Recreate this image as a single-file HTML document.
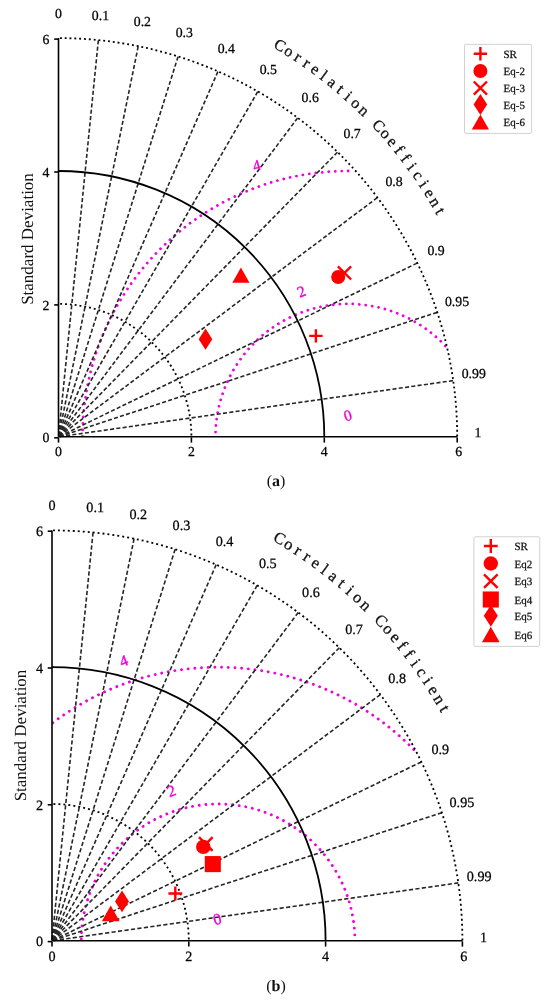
<!DOCTYPE html>
<html><head><meta charset="utf-8"><title>Taylor diagrams</title>
<style>
html,body{margin:0;padding:0;background:#fff;}
body{width:550px;height:1003px;overflow:hidden;}
svg{display:block;}
text{text-rendering:geometricPrecision;}
</style></head>
<body>
<svg width="550" height="1003" viewBox="0 0 550 1003">
<rect width="550" height="1003" fill="#fff"/>
<clipPath id="clipa"><path d="M58.5,436.8 L457.2,436.8 A398.7,398.7 0 0 0 58.5,38.1 Z"/></clipPath>
<g clip-path="url(#clipa)" stroke="#f000dc" stroke-width="2.8" stroke-linecap="round" stroke-dasharray="0.01 6.5" fill="none"><path d="M215.45,436.8 A132.9,132.9 0 0 1 481.25,436.8" stroke-dashoffset="1.7"/><path d="M82.55,436.8 A265.8,265.8 0 0 1 349.84,171" stroke-dashoffset="6"/></g>
<g stroke="#262626" stroke-width="1.6" stroke-dasharray="4.1 2.24" stroke-dashoffset="-1.3" fill="none"><line x1="58.5" y1="436.8" x2="98.37" y2="40.1"/><line x1="58.5" y1="436.8" x2="138.24" y2="46.16"/><line x1="58.5" y1="436.8" x2="178.11" y2="56.46"/><line x1="58.5" y1="436.8" x2="217.98" y2="71.39"/><line x1="58.5" y1="436.8" x2="257.85" y2="91.52"/><line x1="58.5" y1="436.8" x2="297.72" y2="117.84"/><line x1="58.5" y1="436.8" x2="337.59" y2="152.07"/><line x1="58.5" y1="436.8" x2="377.46" y2="197.58"/><line x1="58.5" y1="436.8" x2="417.33" y2="263.01"/><line x1="58.5" y1="436.8" x2="437.27" y2="312.31"/><line x1="58.5" y1="436.8" x2="453.21" y2="380.56"/></g>
<path d="M191.4,436.8 A132.9,132.9 0 0 0 58.5,303.9" stroke="#000" stroke-width="1.8" stroke-dasharray="1.9 2.95" stroke-dashoffset="-1.35" fill="none"/>
<path d="M457.2,436.8 A398.7,398.7 0 0 0 58.5,38.1" stroke="#000" stroke-width="1.8" stroke-dasharray="1.9 2.924" stroke-dashoffset="-0.32" fill="none"/>
<path d="M324.3,436.8 A265.8,265.8 0 0 0 58.5,171" stroke="#000" stroke-width="1.8" fill="none"/>
<g stroke="#000" stroke-width="1.6" fill="none"><line x1="58.5" y1="436.8" x2="457.2" y2="436.8"/><line x1="58.5" y1="436.8" x2="58.5" y2="38.1"/><line x1="54.2" y1="437.8" x2="58.5" y2="437.8"/><line x1="58.5" y1="437.4" x2="58.5" y2="442.6"/><line x1="54.2" y1="304.9" x2="58.5" y2="304.9"/><line x1="191.4" y1="437.4" x2="191.4" y2="442.6"/><line x1="54.2" y1="172" x2="58.5" y2="172"/><line x1="324.3" y1="437.4" x2="324.3" y2="442.6"/><line x1="54.2" y1="39.1" x2="58.5" y2="39.1"/><line x1="457.2" y1="437.4" x2="457.2" y2="442.6"/></g>
<g font-family='"Liberation Serif", "Times New Roman", serif' font-size="13.8" fill="#000" stroke="#000" stroke-width="0.25"><text x="49.5" y="442.4" text-anchor="end">0</text><text x="58.5" y="456" text-anchor="middle">0</text><text x="49.5" y="309.5" text-anchor="end">2</text><text x="191.4" y="456" text-anchor="middle">2</text><text x="49.5" y="176.6" text-anchor="end">4</text><text x="324.3" y="456" text-anchor="middle">4</text><text x="49.5" y="43.7" text-anchor="end">6</text><text x="458.7" y="456" text-anchor="middle">6</text><text x="58.5" y="17.9" text-anchor="middle">0</text><text x="100.45" y="20" text-anchor="middle">0.1</text><text x="142.4" y="26.38" text-anchor="middle">0.2</text><text x="184.35" y="37.22" text-anchor="middle">0.3</text><text x="226.3" y="52.92" text-anchor="middle">0.4</text><text x="268.25" y="74.1" text-anchor="middle">0.5</text><text x="310.2" y="101.8" text-anchor="middle">0.6</text><text x="352.15" y="137.82" text-anchor="middle">0.7</text><text x="394.1" y="185.7" text-anchor="middle">0.8</text><text x="436.05" y="254.54" text-anchor="middle">0.9</text><text x="457.02" y="306.41" text-anchor="middle">0.95</text><text x="473.81" y="378.22" text-anchor="middle">0.99</text><text x="478" y="437.4" text-anchor="middle">1</text></g>
<g font-family='"Liberation Serif", "Times New Roman", serif' font-size="16" font-weight="normal" fill="#111" stroke="#111" stroke-width="0.3" text-anchor="middle"><text transform="translate(277.38,49.93) rotate(29.5)">C</text><text transform="translate(286.36,55.46) rotate(30.86)">o</text><text transform="translate(295.19,61.2) rotate(32.22)">r</text><text transform="translate(303.88,67.15) rotate(33.58)">r</text><text transform="translate(312.43,73.3) rotate(34.94)">e</text><text transform="translate(320.81,79.64) rotate(36.3)">l</text><text transform="translate(329.05,86.18) rotate(37.65)">a</text><text transform="translate(337.11,92.91) rotate(39.01)">t</text><text transform="translate(345.01,99.82) rotate(40.37)">i</text><text transform="translate(352.75,106.92) rotate(41.73)">o</text><text transform="translate(360.3,114.19) rotate(43.09)">n</text><text transform="translate(374.87,129.24) rotate(45.81)">C</text><text transform="translate(381.88,137.02) rotate(47.17)">o</text><text transform="translate(388.69,144.95) rotate(48.53)">e</text><text transform="translate(395.31,153.04) rotate(49.89)">f</text><text transform="translate(401.73,161.28) rotate(51.25)">f</text><text transform="translate(407.96,169.67) rotate(52.6)">i</text><text transform="translate(413.97,178.19) rotate(53.96)">c</text><text transform="translate(419.78,186.85) rotate(55.32)">i</text><text transform="translate(425.38,195.64) rotate(56.68)">e</text><text transform="translate(430.77,204.55) rotate(58.04)">n</text><text transform="translate(435.94,213.59) rotate(59.4)">t</text></g>
<g font-family='"Liberation Serif", "Times New Roman", serif' font-size="15.5" fill="#f000dc" stroke="#f000dc" stroke-width="0.35" text-anchor="middle"><text transform="translate(347.7,415.5) rotate(-16)" y="5.2">0</text><text transform="translate(301.5,291.5) rotate(-22)" y="5.2">2</text><text transform="translate(256.7,165.3) rotate(-17)" y="5.2">4</text></g>
<g fill="#ff0000" stroke="none"><path d="M309.2,335.9H322.6M315.9,329.2V342.6" stroke="#ff0000" stroke-width="2.4" fill="none"/><circle cx="338.2" cy="277" r="7"/><path d="M337.9,266.3L351.1,279.5M337.9,279.5L351.1,266.3" stroke="#ff0000" stroke-width="2.4" fill="none"/><path d="M205.5,328.6L212.3,339.2L205.5,349.8L198.7,339.2Z"/><path d="M240.9,267.6L249.5,282.8L232.3,282.8Z"/></g>
<rect x="464.5" y="44.4" width="67.1" height="89" rx="1.5" fill="#fff" stroke="#d2d2d2" stroke-width="1"/>
<g fill="#ff0000"><path d="M473.7,53.7H487.1M480.4,47V60.4" stroke="#ff0000" stroke-width="2.4" fill="none"/><circle cx="480.4" cy="71" r="7"/><path d="M473.8,81.5L487,94.7M473.8,94.7L487,81.5" stroke="#ff0000" stroke-width="2.4" fill="none"/><path d="M480.4,93.9L487.2,104.5L480.4,115.1L473.6,104.5Z"/><path d="M480.4,114.4L489,129.6L471.8,129.6Z"/></g>
<g font-family='"Liberation Serif", "Times New Roman", serif' font-size="11" fill="#111" stroke="#111" stroke-width="0.25"><text x="503.5" y="57.7">SR</text><text x="503.5" y="75">Eq-2</text><text x="503.5" y="92.1">Eq-3</text><text x="503.5" y="108.5">Eq-5</text><text x="503.5" y="126">Eq-6</text></g>
<text transform="translate(32.5,239) rotate(-90)" text-anchor="middle" font-family='"Liberation Serif", "Times New Roman", serif' font-size="17" fill="#111">Standard Deviation</text>
<text x="276" y="486" text-anchor="middle" font-family='"Liberation Serif", serif' font-size="16" fill="#111">(<tspan font-weight="bold">a</tspan>)</text>
<clipPath id="clipb"><path d="M52,940.8 L462.4,940.8 A410.4,410.4 0 0 0 52,530.4 Z"/></clipPath>
<g clip-path="url(#clipb)" stroke="#f000dc" stroke-width="2.9" stroke-linecap="round" stroke-dasharray="0.01 6.69" fill="none"><path d="M81.28,940.8 A136.8,136.8 0 0 1 354.88,940.8" stroke-dashoffset="5.19"/><path d="M-55.52,940.8 A273.6,273.6 0 0 1 414.24,750.07" stroke-dashoffset="2.32"/></g>
<g stroke="#262626" stroke-width="1.6" stroke-dasharray="4.22 2.31" stroke-dashoffset="-1.35" fill="none"><line x1="52" y1="940.8" x2="93.04" y2="532.46"/><line x1="52" y1="940.8" x2="134.08" y2="538.69"/><line x1="52" y1="940.8" x2="175.12" y2="549.3"/><line x1="52" y1="940.8" x2="216.16" y2="564.66"/><line x1="52" y1="940.8" x2="257.2" y2="585.38"/><line x1="52" y1="940.8" x2="298.24" y2="612.48"/><line x1="52" y1="940.8" x2="339.28" y2="647.72"/><line x1="52" y1="940.8" x2="380.32" y2="694.56"/><line x1="52" y1="940.8" x2="421.36" y2="761.91"/><line x1="52" y1="940.8" x2="441.88" y2="812.65"/><line x1="52" y1="940.8" x2="458.3" y2="882.91"/></g>
<path d="M188.8,940.8 A136.8,136.8 0 0 0 52,804" stroke="#000" stroke-width="1.8" stroke-dasharray="1.95 3.05" stroke-dashoffset="-1.4" fill="none"/>
<path d="M462.4,940.8 A410.4,410.4 0 0 0 52,530.4" stroke="#000" stroke-width="1.8" stroke-dasharray="1.95 3.02" stroke-dashoffset="-0.33" fill="none"/>
<path d="M325.6,940.8 A273.6,273.6 0 0 0 52,667.2" stroke="#000" stroke-width="1.8" fill="none"/>
<g stroke="#000" stroke-width="1.6" fill="none"><line x1="52" y1="940.8" x2="462.4" y2="940.8"/><line x1="52" y1="940.8" x2="52" y2="530.4"/><line x1="47.7" y1="941.6" x2="52" y2="941.6"/><line x1="52" y1="941.4" x2="52" y2="946.6"/><line x1="47.7" y1="804.8" x2="52" y2="804.8"/><line x1="188.8" y1="941.4" x2="188.8" y2="946.6"/><line x1="47.7" y1="668" x2="52" y2="668"/><line x1="325.6" y1="941.4" x2="325.6" y2="946.6"/><line x1="47.7" y1="531.2" x2="52" y2="531.2"/><line x1="462.4" y1="941.4" x2="462.4" y2="946.6"/></g>
<g font-family='"Liberation Serif", "Times New Roman", serif' font-size="14.2" fill="#000" stroke="#000" stroke-width="0.25"><text x="43" y="946.3" text-anchor="end">0</text><text x="52" y="960.5" text-anchor="middle">0</text><text x="43" y="809.5" text-anchor="end">2</text><text x="188.8" y="960.5" text-anchor="middle">2</text><text x="43" y="672.7" text-anchor="end">4</text><text x="325.6" y="960.5" text-anchor="middle">4</text><text x="43" y="535.9" text-anchor="end">6</text><text x="463.9" y="960.5" text-anchor="middle">6</text><text x="52" y="510.2" text-anchor="middle">0</text><text x="95.15" y="512.36" text-anchor="middle">0.1</text><text x="138.3" y="518.92" text-anchor="middle">0.2</text><text x="181.45" y="530.08" text-anchor="middle">0.3</text><text x="224.6" y="546.22" text-anchor="middle">0.4</text><text x="267.75" y="568.01" text-anchor="middle">0.5</text><text x="310.9" y="596.5" text-anchor="middle">0.6</text><text x="354.05" y="633.55" text-anchor="middle">0.7</text><text x="397.2" y="682.8" text-anchor="middle">0.8</text><text x="440.35" y="753.61" text-anchor="middle">0.9</text><text x="461.92" y="806.96" text-anchor="middle">0.95</text><text x="479.19" y="880.83" text-anchor="middle">0.99</text><text x="483.5" y="941.7" text-anchor="middle">1</text></g>
<g font-family='"Liberation Serif", "Times New Roman", serif' font-size="16.4" font-weight="normal" fill="#111" stroke="#111" stroke-width="0.3" text-anchor="middle"><text transform="translate(277.04,543.05) rotate(29.5)">C</text><text transform="translate(286.27,548.73) rotate(30.86)">o</text><text transform="translate(295.36,554.63) rotate(32.22)">r</text><text transform="translate(304.3,560.74) rotate(33.58)">r</text><text transform="translate(313.08,567.05) rotate(34.94)">e</text><text transform="translate(321.71,573.57) rotate(36.3)">l</text><text transform="translate(330.18,580.28) rotate(37.65)">a</text><text transform="translate(338.48,587.2) rotate(39.01)">t</text><text transform="translate(346.61,594.3) rotate(40.37)">i</text><text transform="translate(354.57,601.59) rotate(41.73)">o</text><text transform="translate(362.34,609.06) rotate(43.09)">n</text><text transform="translate(377.33,624.53) rotate(45.81)">C</text><text transform="translate(384.54,632.52) rotate(47.17)">o</text><text transform="translate(391.56,640.67) rotate(48.53)">e</text><text transform="translate(398.37,648.99) rotate(49.89)">f</text><text transform="translate(404.98,657.46) rotate(51.25)">f</text><text transform="translate(411.39,666.07) rotate(52.6)">i</text><text transform="translate(417.58,674.84) rotate(53.96)">c</text><text transform="translate(423.56,683.74) rotate(55.32)">i</text><text transform="translate(429.33,692.77) rotate(56.68)">e</text><text transform="translate(434.87,701.94) rotate(58.04)">n</text><text transform="translate(440.19,711.22) rotate(59.4)">t</text></g>
<g font-family='"Liberation Serif", "Times New Roman", serif' font-size="16" fill="#f000dc" stroke="#f000dc" stroke-width="0.35" text-anchor="middle"><text transform="translate(217.2,919.1) rotate(-15)" y="5.4">0</text><text transform="translate(171.4,790.8) rotate(-20)" y="5.4">2</text><text transform="translate(123.6,660.8) rotate(-20)" y="5.4">4</text></g>
<g fill="#ff0000" stroke="none"><path d="M168.4,893.5H182.2M175.3,886.6V900.4" stroke="#ff0000" stroke-width="2.4" fill="none"/><circle cx="203.3" cy="846.9" r="7.21"/><path d="M199,837.2L212.6,850.8M199,850.8L212.6,837.2" stroke="#ff0000" stroke-width="2.4" fill="none"/><rect x="204.77" y="856.07" width="16.07" height="16.07"/><path d="M122,890.48L129,901.4L122,912.32L115,901.4Z"/><path d="M110.7,905.57L119.56,921.23L101.84,921.23Z"/></g>
<rect x="473.9" y="536.8" width="65.8" height="109.6" rx="1.5" fill="#fff" stroke="#d2d2d2" stroke-width="1"/>
<g fill="#ff0000"><path d="M483.9,546H497.7M490.8,539.1V552.9" stroke="#ff0000" stroke-width="2.4" fill="none"/><circle cx="490.8" cy="563.5" r="7.21"/><path d="M484,574.3L497.6,587.9M484,587.9L497.6,574.3" stroke="#ff0000" stroke-width="2.4" fill="none"/><rect x="482.77" y="591.47" width="16.07" height="16.07"/><path d="M490.8,604.88L497.8,615.8L490.8,626.72L483.8,615.8Z"/><path d="M490.8,626.67L499.66,642.33L481.94,642.33Z"/></g>
<g font-family='"Liberation Serif", "Times New Roman", serif' font-size="11" fill="#111" stroke="#111" stroke-width="0.25"><text x="514.5" y="550">SR</text><text x="514.5" y="567.5">Eq2</text><text x="514.5" y="585.1">Eq3</text><text x="514.5" y="603.5">Eq4</text><text x="514.5" y="619.8">Eq5</text><text x="514.5" y="638.5">Eq6</text></g>
<text transform="translate(25.8,735.5) rotate(-90)" text-anchor="middle" font-family='"Liberation Serif", "Times New Roman", serif' font-size="17" fill="#111">Standard Deviation</text>
<text x="276" y="991" text-anchor="middle" font-family='"Liberation Serif", serif' font-size="16" fill="#111">(<tspan font-weight="bold">b</tspan>)</text>
</svg>
</body></html>
